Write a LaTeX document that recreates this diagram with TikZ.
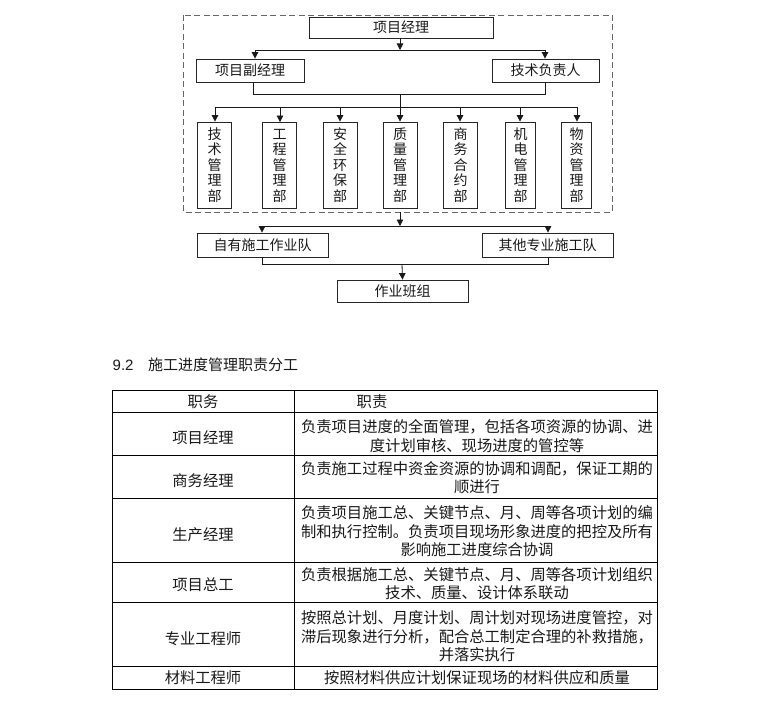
\documentclass[tikz,border=0pt]{standalone}
\usepackage{fontspec}
\setmainfont{Liberation Sans}
\newfontfamily\cjk{Noto Sans CJK SC}
\usetikzlibrary{arrows.meta}
\begin{document}
\begin{tikzpicture}[x=1pt,y=-1pt,
  box/.style={draw=black!85, line width=0.8pt, inner sep=0pt, text=black!90,
    font=\cjk\fontsize{14}{15.5}\selectfont},
  dept/.style={box, align=center, minimum height=86, minimum width=34},
  conn/.style={draw=black!90, line width=0.8pt},
  arr/.style={conn, -{Triangle[length=6.5pt,width=6.5pt]}},
  grid/.style={draw=black, line width=0.8pt},
  cell/.style={inner sep=0pt, text=black!90, font=\cjk\fontsize{15.3}{18.5}\selectfont},
  duty/.style={cell, align=center, text width=360}
]
\useasboundingbox (0,0) rectangle (760,706);
\fill[white] (0,0) rectangle (760,706);

% ---------- organisation chart ----------
\draw[draw=black!60, line width=0.9pt, dash pattern=on 6pt off 3.5pt] (183,15) rectangle (612,212);

\node[box, minimum width=184, minimum height=21] (pm) at (401,27.5) {项目经理};
\node[box, minimum width=108, minimum height=23] (dpm) at (250,70.5) {项目副经理};
\node[box, minimum width=107, minimum height=23] (tech) at (545.5,70.5) {技术负责人};

\node[dept] (d1) at (214.5,165) {技\\术\\管\\理\\部};
\node[dept] (d2) at (279.5,165.5) {工\\程\\管\\理\\部};
\node[dept] (d3) at (340,165) {安\\全\\环\\保\\部};
\node[dept] (d4) at (400,165) {质\\量\\管\\理\\部};
\node[dept] (d5) at (460.5,165) {商\\务\\合\\约\\部};
\node[dept, minimum width=30] (d6) at (520.5,165) {机\\电\\管\\理\\部};
\node[dept, minimum width=30] (d7) at (576.5,165) {物\\资\\管\\理\\部};

\coordinate (j1) at (400,50);
\coordinate (j1l) at (255,50);
\coordinate (j1r) at (545,50);
\draw[arr] (pm.south -| j1) -- (j1);
\draw[conn] (j1l) -- (j1r);
\draw[arr] (j1l) -- (dpm.north -| j1l);
\draw[arr] (j1r) -- (tech.north -| j1r);

\coordinate (j2l) at (253,94);
\coordinate (j2r) at (545,94);
\coordinate (j2) at (400,94);
\draw[conn] (dpm.south -| j2l) -- (j2l) -- (j2r) -- (tech.south -| j2r);
\draw[arr] (j2) -- (d4.north -| j2);

\coordinate (j3l) at (215,107);
\coordinate (j3r) at (577,107);
\draw[conn] (j3l) -- (j3r);
\foreach \d/\x in {d1/215,d2/280,d3/340,d5/460,d6/520,d7/577}{
  \draw[arr] (\x,107) -- (\d.north -| {(\x,0)});
}

\coordinate (dashbot) at (400,212);
\coordinate (j4) at (400,226);
\coordinate (j4l) at (262,226);
\coordinate (j4r) at (548,226);
\node[box, minimum width=131, minimum height=24] (own) at (262.5,245) {自有施工作业队};
\node[box, minimum width=131, minimum height=24] (other) at (547.5,245) {其他专业施工队};
\node[box, minimum width=131, minimum height=22] (crew) at (402.5,291) {作业班组};
\draw[arr] (dashbot) -- (j4);
\draw[conn] (j4l) -- (j4r);
\draw[arr] (j4l) -- (own.north -| j4l);
\draw[arr] (j4r) -- (other.north -| j4r);

\coordinate (j5l) at (262,264);
\coordinate (j5r) at (548,264);
\coordinate (j5) at (402,264);
\draw[conn] (own.south -| j5l) -- (j5l) -- (j5r) -- (other.south -| j5r);
\draw[arr] (j5) -- (crew.north);

% ---------- title ----------
\node[anchor=west, inner sep=0pt, text=black!90, font=\fontsize{15}{18}\selectfont] (tnum) at (112.5,365) {9.2};
\node[anchor=west, inner sep=0pt, text=black!90, font=\cjk\fontsize{15}{18}\selectfont] (ttext) at (148,365) {施工进度管理职责分工};

% ---------- table ----------
\draw[grid] (112,390) rectangle (657,689);
\draw[grid] (294,390) -- (294,689);
\foreach \y in {412,455,498,562,602,666}{
  \draw[grid] (112,\y) -- (657,\y);
}

\node[cell] (h1) at (203,401.5) {职务};
\node[cell] (h2) at (372,401.5) {职责};

\node[cell] (r1a) at (203,438) {项目经理};
\node[duty] (r1b) at (477,436) {负责项目进度的全面管理，包括各项资源的协调、进\\度计划审核、现场进度的管控等};

\node[cell] (r2a) at (203,480.5) {商务经理};
\node[duty] (r2b) at (477,477.5) {负责施工过程中资金资源的协调和调配，保证工期的\\顺进行};

\node[cell] (r3a) at (203,534.5) {生产经理};
\node[duty] (r3b) at (477,531.5) {负责项目施工总、关键节点、月、周等各项计划的编\\制和执行控制。负责项目现场形象进度的把控及所有\\影响施工进度综合协调};

\node[cell] (r4a) at (203,585) {项目总工};
\node[duty] (r4b) at (477,583.5) {负责根据施工总、关键节点、月、周等各项计划组织\\技术、质量、设计体系联动};

\node[cell] (r5a) at (203,639) {专业工程师};
\node[duty] (r5b) at (477,636.5) {按照总计划、月度计划、周计划对现场进度管控，对\\滞后现象进行分析，配合总工制定合理的补救措施，\\并落实执行};

\node[cell] (r6a) at (203,677.5) {材料工程师};
\node[duty] (r6b) at (477,677.5) {按照材料供应计划保证现场的材料供应和质量};
\end{tikzpicture}
\end{document}
